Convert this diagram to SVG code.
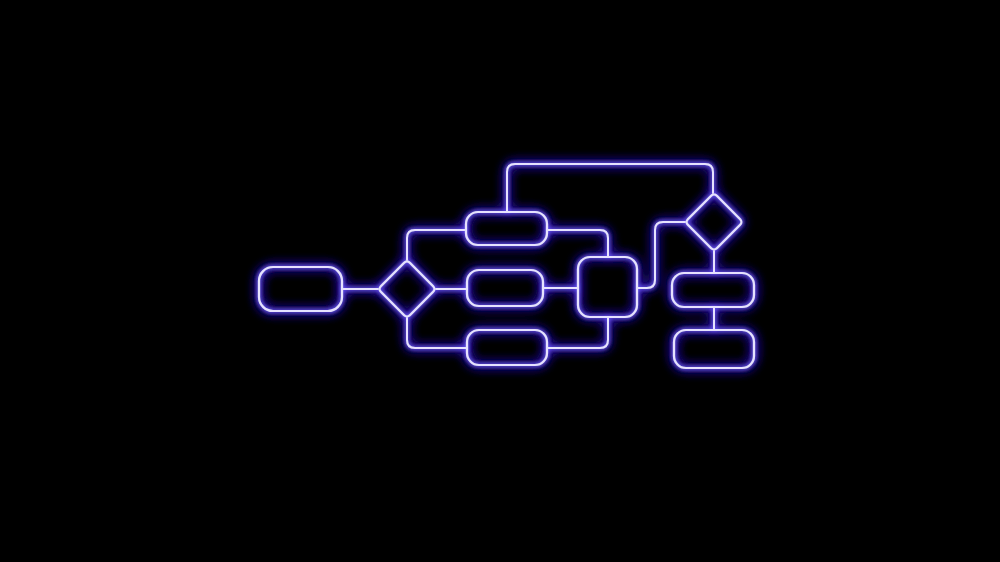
<svg xmlns="http://www.w3.org/2000/svg" width="1000" height="562" viewBox="0 0 1000 562">
<defs>
<filter id="glow" filterUnits="userSpaceOnUse" x="0" y="0" width="1000" height="562">
<feGaussianBlur in="SourceAlpha" stdDeviation="6" result="b1"/>
<feFlood flood-color="#4326ff" flood-opacity="1"/>
<feComposite in2="b1" operator="in" result="g1"/>
<feGaussianBlur in="SourceAlpha" stdDeviation="2" result="b2"/>
<feFlood flood-color="#6f58ff"/>
<feComposite in2="b2" operator="in" result="g2"/>
<feMerge>
<feMergeNode in="g1"/>
<feMergeNode in="g1"/>
<feMergeNode in="g1"/>
<feMergeNode in="g2"/>
<feMergeNode in="g2"/>
<feMergeNode in="SourceGraphic"/>
</feMerge>
</filter>
<style>
.n{fill:none;stroke:#e6e2ff;stroke-width:2.2;}
.c{fill:none;stroke:#e6e2ff;stroke-width:2;stroke-linecap:round;}
</style>
</defs>
<rect width="1000" height="562" fill="#000"/>
<g filter="url(#glow)">
<g id="connectors">
<path class="c" d="M342 289 H378"/>
<path class="c" d="M407 260 V238 Q407 230 415 230 H466"/>
<path class="c" d="M436 289 H467"/>
<path class="c" d="M407 318 V340 Q407 348 415 348 H467"/>
<path class="c" d="M507 212 V172 Q507 164 515 164 H705 Q713 164 713 172 V193"/>
<path class="c" d="M547 230 H600 Q608 230 608 238 V257"/>
<path class="c" d="M543 288 H578"/>
<path class="c" d="M547 348 H600 Q608 348 608 340 V317"/>
<path class="c" d="M637 288 H647 Q655 288 655 280 V230 Q655 222 663 222 H685"/>
<path class="c" d="M714 251 V273"/>
<path class="c" d="M714 307 V330"/>
</g>
<g id="start"><rect class="n" x="259" y="267" width="83" height="44" rx="14"/></g>
<g id="decision1"><rect class="n" x="-20.5" y="-20.5" width="41" height="41" rx="4" transform="translate(407 289) rotate(45)"/></g>
<g id="top-box"><rect class="n" x="466" y="212" width="81" height="33" rx="12"/></g>
<g id="mid-box"><rect class="n" x="467" y="270" width="76" height="36" rx="12"/></g>
<g id="bottom-box"><rect class="n" x="467" y="330" width="80" height="35" rx="12"/></g>
<g id="merge"><rect class="n" x="578" y="257" width="59" height="60" rx="12"/></g>
<g id="decision2"><rect class="n" x="-20.5" y="-20.5" width="41" height="41" rx="4" transform="translate(714 222) rotate(45)"/></g>
<g id="right-box1"><rect class="n" x="672" y="273" width="82" height="34" rx="12"/></g>
<g id="right-box2"><rect class="n" x="674" y="330" width="80" height="38" rx="12"/></g>
</g>
</svg>
